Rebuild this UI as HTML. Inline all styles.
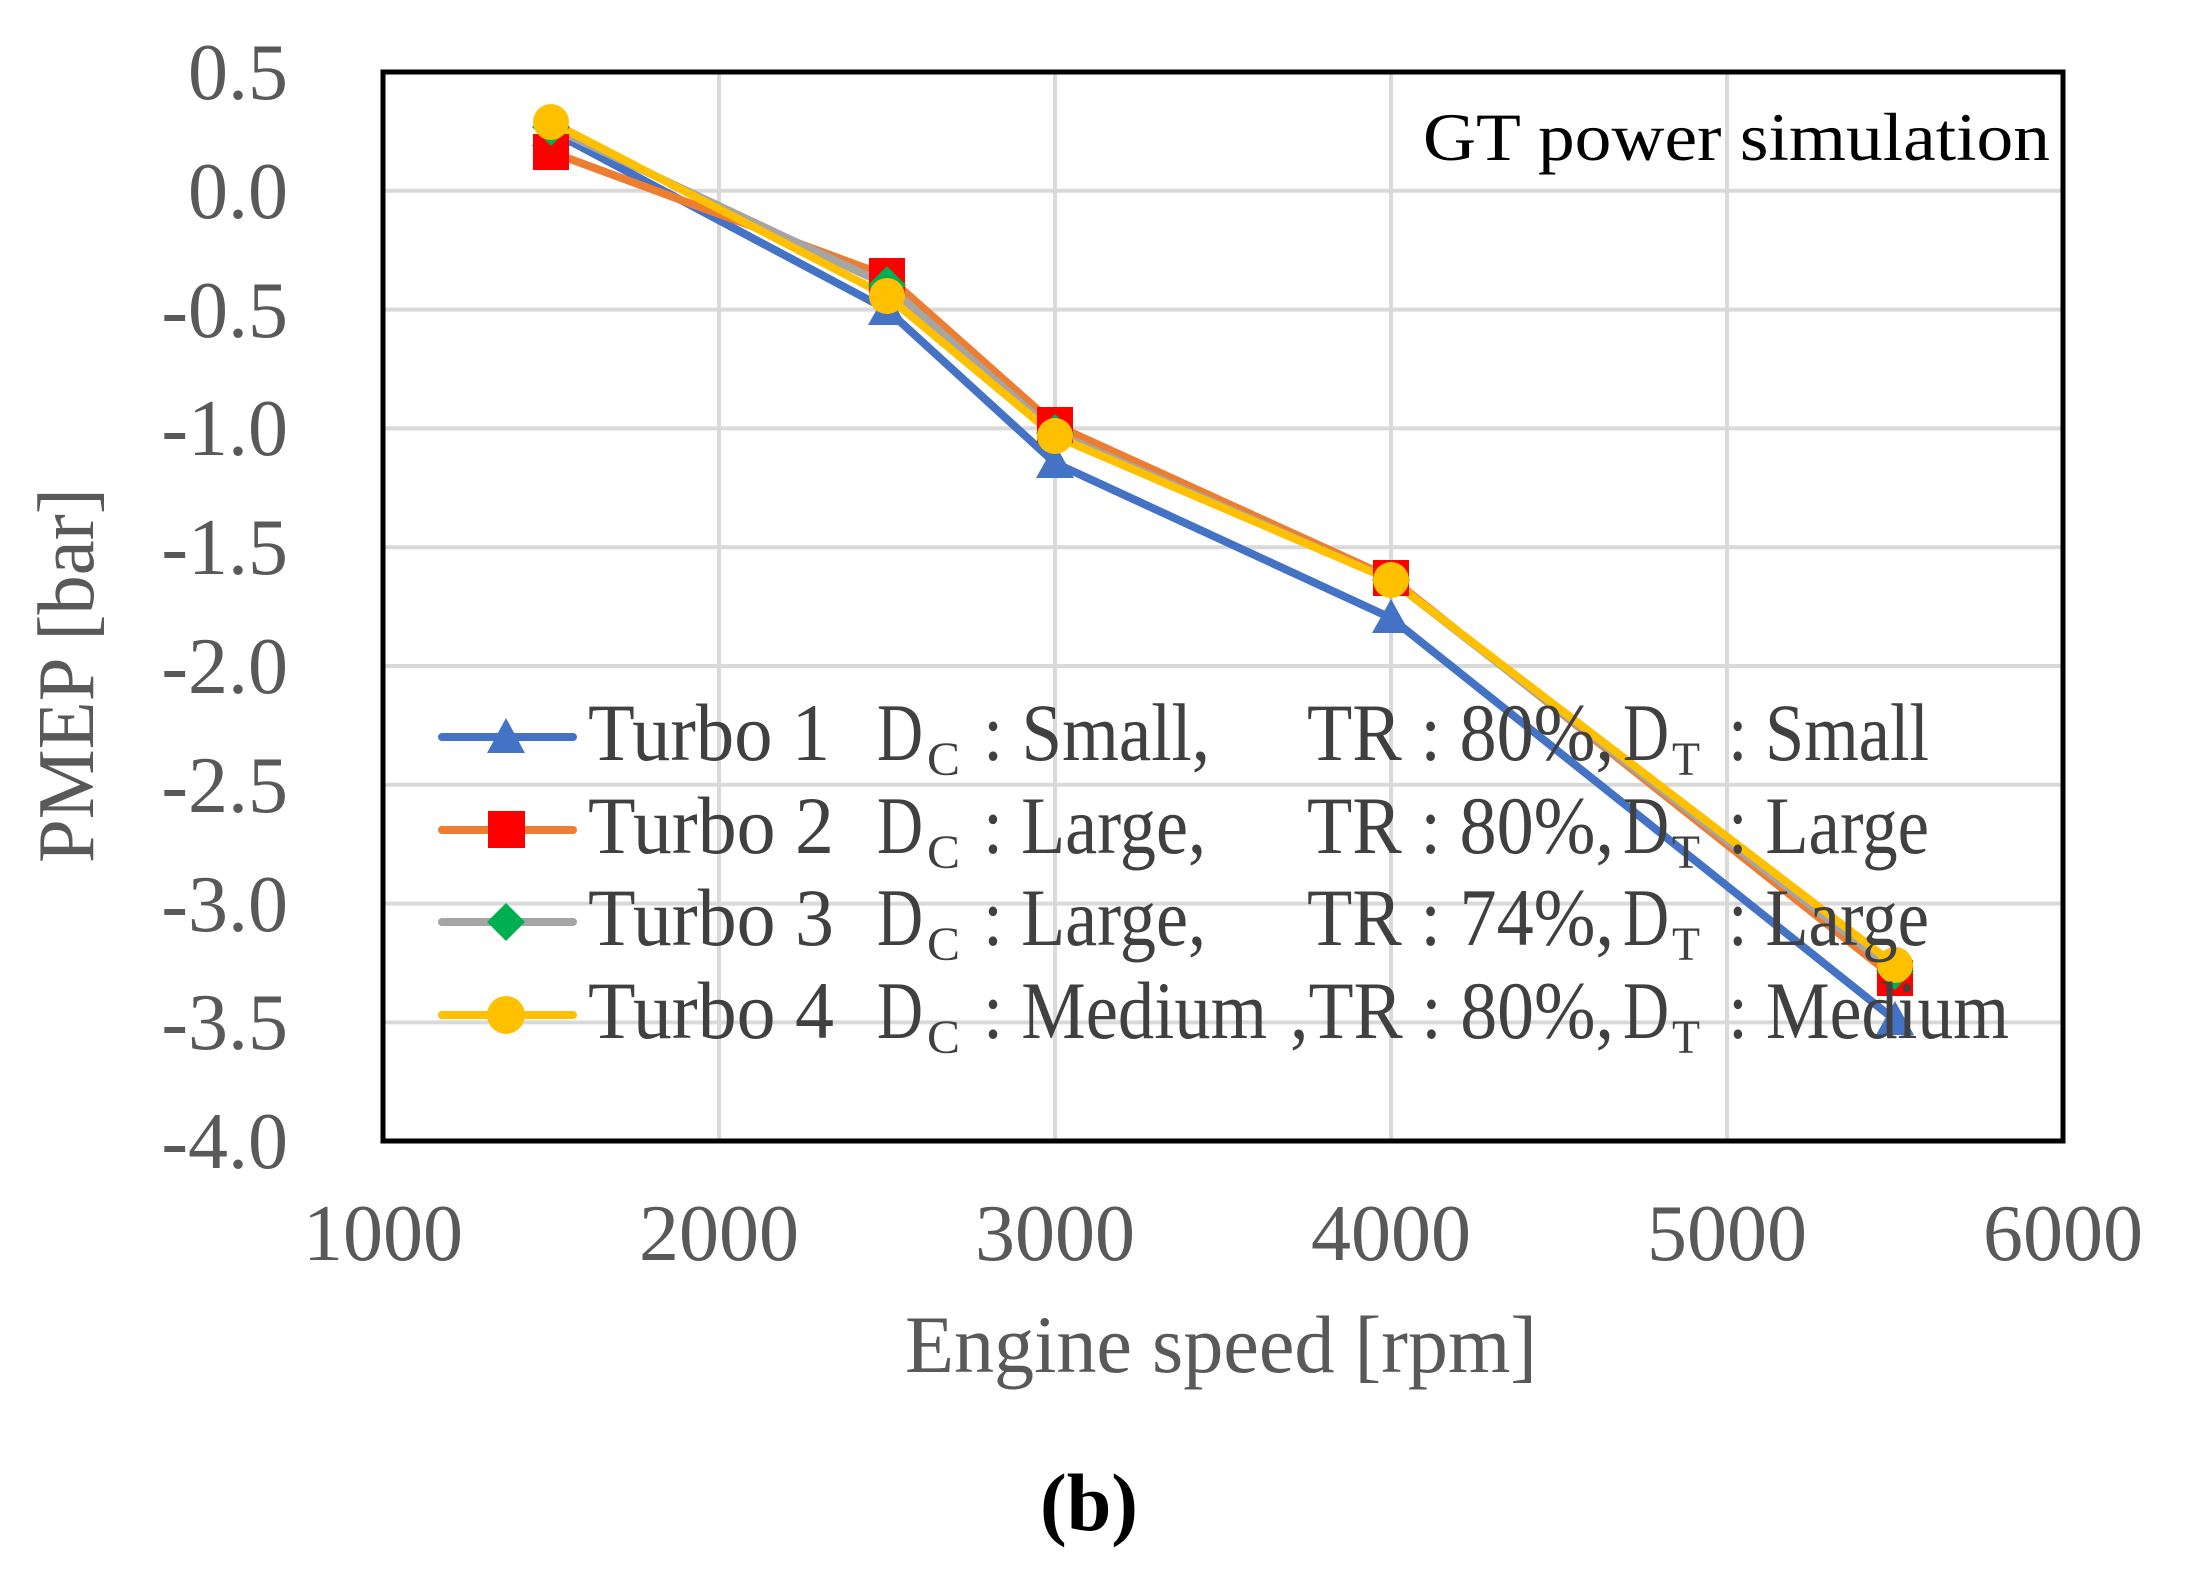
<!DOCTYPE html>
<html><head><meta charset="utf-8"><style>html,body{margin:0;padding:0;background:#fff}svg{display:block}</style></head>
<body>
<svg width="2187" height="1575" viewBox="0 0 2187 1575" xmlns="http://www.w3.org/2000/svg" font-family="'Liberation Serif', serif">
<rect width="2187" height="1575" fill="#fff"/>
<g stroke="#d9d9d9" stroke-width="4">
<line x1="383" y1="190.8" x2="2063" y2="190.8"/>
<line x1="383" y1="309.6" x2="2063" y2="309.6"/>
<line x1="383" y1="428.4" x2="2063" y2="428.4"/>
<line x1="383" y1="547.2" x2="2063" y2="547.2"/>
<line x1="383" y1="666" x2="2063" y2="666"/>
<line x1="383" y1="784.8" x2="2063" y2="784.8"/>
<line x1="383" y1="903.6" x2="2063" y2="903.6"/>
<line x1="383" y1="1022.4" x2="2063" y2="1022.4"/>
<line x1="719" y1="72" x2="719" y2="1141"/>
<line x1="1055" y1="72" x2="1055" y2="1141"/>
<line x1="1391" y1="72" x2="1391" y2="1141"/>
<line x1="1727" y1="72" x2="1727" y2="1141"/>
</g>
<rect x="383" y="72" width="1680" height="1069" fill="none" stroke="#000" stroke-width="5"/>
<g font-size="80" fill="#595959" text-anchor="end">
<text x="288" y="99">0.5</text>
<text x="288" y="218">0.0</text>
<text x="288" y="337">-0.5</text>
<text x="288" y="455">-1.0</text>
<text x="288" y="574">-1.5</text>
<text x="288" y="693">-2.0</text>
<text x="288" y="812">-2.5</text>
<text x="288" y="931">-3.0</text>
<text x="288" y="1049">-3.5</text>
<text x="288" y="1168">-4.0</text>
</g>
<g font-size="80" fill="#595959" text-anchor="middle">
<text x="383" y="1260">1000</text>
<text x="719" y="1260">2000</text>
<text x="1055" y="1260">3000</text>
<text x="1391" y="1260">4000</text>
<text x="1727" y="1260">5000</text>
<text x="2063" y="1260">6000</text>
</g>
<text x="905" y="1372" font-size="82" fill="#595959" textLength="632" lengthAdjust="spacingAndGlyphs">Engine speed [rpm]</text>
<text transform="translate(93,863) rotate(-90)" font-size="80" fill="#595959" textLength="375" lengthAdjust="spacingAndGlyphs">PMEP [bar]</text>
<text x="1040" y="1530" font-size="82" font-weight="bold" fill="#000" textLength="98" lengthAdjust="spacingAndGlyphs">(b)</text>
<text x="1423" y="160" font-size="68" fill="#000" textLength="627" lengthAdjust="spacingAndGlyphs">GT power simulation</text>

<g fill="none" stroke-width="8" stroke-linejoin="round">
<polyline stroke="#4472C4" points="551,131 887,309.6 1055,463 1391,618 1895,1020"/>
<polyline stroke="#ED7D31" points="551,152 887,276 1055,425 1391,578 1895,978"/>
<polyline stroke="#A5A5A5" points="551,127 887,285 1055,433 1391,580 1895,971"/>
<polyline stroke="#FFC000" points="551,122 887,296 1055,436 1391,580 1895,965"/>
</g>
<g fill="#4472C4">
<polygon points="551,112 570,146 532,146"/>
<polygon points="887,291 906,325 868,325"/>
<polygon points="1055,444 1074,478 1036,478"/>
<polygon points="1391,599 1410,633 1372,633"/>
<polygon points="1895,1001 1914,1035 1876,1035"/>
</g>
<g fill="#FF0000">
<rect x="533" y="134" width="36" height="36"/>
<rect x="869" y="258" width="36" height="36"/>
<rect x="1037" y="407" width="36" height="36"/>
<rect x="1373" y="560" width="36" height="36"/>
<rect x="1877" y="960" width="36" height="36"/>
</g>
<g fill="#00B050">
<polygon points="551,108 570,127 551,146 532,127"/>
<polygon points="887,266 906,285 887,304 868,285"/>
<polygon points="1055,414 1074,433 1055,452 1036,433"/>
<polygon points="1391,561 1410,580 1391,599 1372,580"/>
<polygon points="1895,952 1914,971 1895,990 1876,971"/>
</g>
<g fill="#FFC000">
<circle cx="551" cy="122" r="18"/>
<circle cx="887" cy="296" r="18"/>
<circle cx="1055" cy="436" r="18"/>
<circle cx="1391" cy="580" r="18"/>
<circle cx="1895" cy="965" r="18"/>
</g>

<g stroke-width="8" stroke-linecap="round">
<line x1="442" y1="737" x2="573" y2="737" stroke="#4472C4"/>
<line x1="442" y1="830" x2="573" y2="830" stroke="#ED7D31"/>
<line x1="442" y1="922" x2="573" y2="922" stroke="#A5A5A5"/>
<line x1="442" y1="1015" x2="573" y2="1015" stroke="#FFC000"/>
</g>
<polygon points="506,718 525,753 487,753" fill="#4472C4"/>
<rect x="488" y="811" width="37" height="37" fill="#FF0000"/>
<polygon points="506,903 525,922 506,941 487,922" fill="#00B050"/>
<circle cx="506" cy="1015" r="19" fill="#FFC000"/>

<g font-size="82" fill="#404040" lengthAdjust="spacingAndGlyphs">
<text x="588" y="760" textLength="242" lengthAdjust="spacingAndGlyphs">Turbo 1</text>
<text x="588" y="853" textLength="246" lengthAdjust="spacingAndGlyphs">Turbo 2</text>
<text x="588" y="945" textLength="246" lengthAdjust="spacingAndGlyphs">Turbo 3</text>
<text x="588" y="1038" textLength="246" lengthAdjust="spacingAndGlyphs">Turbo 4</text>

<text x="877" y="760" textLength="46" lengthAdjust="spacingAndGlyphs">D</text>
<text x="877" y="853" textLength="46" lengthAdjust="spacingAndGlyphs">D</text>
<text x="877" y="945" textLength="46" lengthAdjust="spacingAndGlyphs">D</text>
<text x="877" y="1038" textLength="46" lengthAdjust="spacingAndGlyphs">D</text>
<text x="927" y="775" font-size="48" textLength="33" lengthAdjust="spacingAndGlyphs">C</text>
<text x="927" y="868" font-size="48" textLength="33" lengthAdjust="spacingAndGlyphs">C</text>
<text x="927" y="960" font-size="48" textLength="33" lengthAdjust="spacingAndGlyphs">C</text>
<text x="927" y="1053" font-size="48" textLength="33" lengthAdjust="spacingAndGlyphs">C</text>

<text x="983" y="760" textLength="227" lengthAdjust="spacingAndGlyphs">: Small,</text>
<text x="983" y="853" textLength="223" lengthAdjust="spacingAndGlyphs">: Large,</text>
<text x="983" y="945" textLength="223" lengthAdjust="spacingAndGlyphs">: Large,</text>
<text x="983" y="1038" textLength="284" lengthAdjust="spacingAndGlyphs">: Medium</text>

<text x="1307" y="760" textLength="307" lengthAdjust="spacingAndGlyphs">TR : 80%,</text>
<text x="1307" y="853" textLength="307" lengthAdjust="spacingAndGlyphs">TR : 80%,</text>
<text x="1307" y="945" textLength="307" lengthAdjust="spacingAndGlyphs">TR : 74%,</text>
<text x="1290" y="1038" textLength="324" lengthAdjust="spacingAndGlyphs">,TR : 80%,</text>

<text x="1623" y="760" textLength="46" lengthAdjust="spacingAndGlyphs">D</text>
<text x="1623" y="853" textLength="46" lengthAdjust="spacingAndGlyphs">D</text>
<text x="1623" y="945" textLength="46" lengthAdjust="spacingAndGlyphs">D</text>
<text x="1623" y="1038" textLength="46" lengthAdjust="spacingAndGlyphs">D</text>
<text x="1672" y="775" font-size="48" textLength="28" lengthAdjust="spacingAndGlyphs">T</text>
<text x="1672" y="868" font-size="48" textLength="28" lengthAdjust="spacingAndGlyphs">T</text>
<text x="1672" y="960" font-size="48" textLength="28" lengthAdjust="spacingAndGlyphs">T</text>
<text x="1672" y="1053" font-size="48" textLength="28" lengthAdjust="spacingAndGlyphs">T</text>

<text x="1728" y="760" textLength="201" lengthAdjust="spacingAndGlyphs">: Small</text>
<text x="1728" y="853" textLength="201" lengthAdjust="spacingAndGlyphs">: Large</text>
<text x="1728" y="945" textLength="201" lengthAdjust="spacingAndGlyphs">: Large</text>
<text x="1728" y="1038" textLength="281" lengthAdjust="spacingAndGlyphs">: Medium</text>
</g>
</svg>
</body></html>
